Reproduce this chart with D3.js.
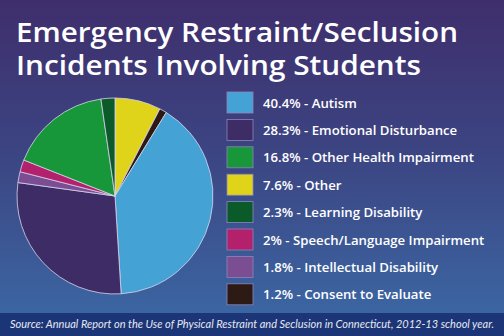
<!DOCTYPE html>
<html><head><meta charset="utf-8">
<script src="https://cdn.jsdelivr.net/npm/d3@7"></script>
<style>html,body{margin:0;padding:0;background:#3c3a78;}svg{display:block;}</style>
</head><body>
<script>
const categories = ["Autism","Emotional Disturbance","Other Health Impairment","Other","Learning Disability","Speech/Language Impairment","Intellectual Disability","Consent to Evaluate"];
const values = [40.4, 28.3, 16.8, 7.6, 2.3, 2, 1.8, 1.2];
const colors = ["#45a2d5","#3e2c66","#17973a","#dfd41a","#0b5a2a","#b3206b","#7b4e94","#2e1a14"];
// order slices are drawn clockwise from 12 o'clock
const pieOrder = ["Other","Consent to Evaluate","Autism","Emotional Disturbance","Intellectual Disability","Speech/Language Impairment","Other Health Impairment","Learning Disability"];
const titleLines = ["Emergency Restraint/Seclusion","Incidents Involving Students"];

const W = 504, H = 336;
const svg = d3.select("body").append("svg").attr("width", W).attr("height", H);
const defs = svg.append("defs");
const g = defs.append("linearGradient").attr("id","bg").attr("x1",0).attr("y1",0).attr("x2",0).attr("y2",1);
g.append("stop").attr("offset","0%").attr("stop-color","#3f2e6c");
g.append("stop").attr("offset","45%").attr("stop-color","#3c4482");
g.append("stop").attr("offset","100%").attr("stop-color","#3b6aa6");
svg.append("rect").attr("width",W).attr("height",H).attr("fill","url(#bg)");

// title
const widths = [442, 405];
svg.selectAll("text.title").data(titleLines).join("text").attr("class","title")
  .attr("x",16).attr("y",(d,i) => 42 + 33*i).attr("fill","#ffffff")
  .style("font-family","'Open Sans', Lato, sans-serif").style("font-weight","600").style("font-size","27.5px")
  .text(d => d)
  .each(function(d,i){ const cur = this.getComputedTextLength(); if (Math.abs(cur-widths[i]) > 2) d3.select(this).attr("textLength", widths[i]).attr("lengthAdjust","spacingAndGlyphs"); });

// pie
const color = d3.scaleOrdinal().domain(categories).range(colors);
const data = pieOrder.map(c => ({cat:c, v: values[categories.indexOf(c)]}));
const pie = d3.pie().sort(null).value(d => d.v);
const arc = d3.arc().innerRadius(0).outerRadius(98);
const pg = svg.append("g").attr("transform","translate(115,196)");
pg.selectAll("path").data(pie(data)).join("path")
  .attr("d", arc).attr("fill", d => color(d.data.cat))
  .attr("stroke","#d8d4ec").attr("stroke-width",0.8).attr("stroke-linejoin","round");

// legend
const ly = d3.scaleBand().domain(categories).range([92, 92 + 27.4*8]);
const lg = svg.append("g");
const rows = lg.selectAll("g").data(categories).join("g")
  .attr("transform", d => `translate(227,${ly(d)})`);
rows.append("rect").attr("width",26).attr("height",21)
  .attr("fill", d => color(d)).attr("stroke","#8e86b8").attr("stroke-width",0.8);
rows.append("text").attr("x",36).attr("y",15.5).attr("fill","#ffffff")
  .style("font-family","'Open Sans', Lato, sans-serif").style("font-weight","600").style("font-size","13.2px")
  .text((d,i) => `${values[i]}% - ${d}`);

// footer
svg.append("rect").attr("x",0).attr("y",313).attr("width",W).attr("height",H-313).attr("fill","#1b3577");
svg.append("text").attr("x",W/2).attr("y",328).attr("text-anchor","middle").attr("fill","#e6e8f2")
  .style("font-family","Lato, 'Open Sans', sans-serif").style("font-style","italic").style("font-size","11px")
  .text("Source: Annual Report on the Use of Physical Restraint and Seclusion in Connecticut, 2012-13 school year.");
</script>
</body></html>
